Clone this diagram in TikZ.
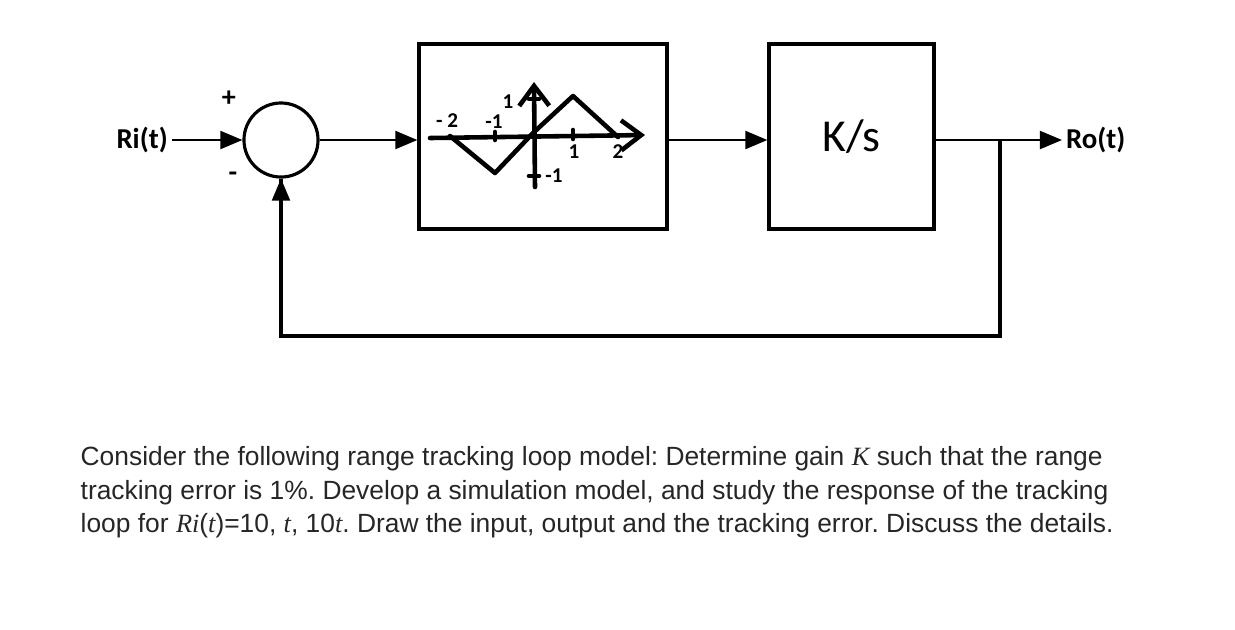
\documentclass[tikz,border=0pt]{standalone}
\usepackage{fontspec}
\setmainfont{Liberation Sans}
\newfontfamily\calibri{Carlito}
\newfontfamily\tnr{Liberation Serif}
\usetikzlibrary{arrows.meta,positioning}

\begin{document}
\frenchspacing
\begin{tikzpicture}[x=0.01cm, y=-0.01cm,
  block/.style={draw, line width=0.9pt, minimum width=2.48cm, minimum height=1.85cm, inner sep=0pt},
  sum/.style={draw, line width=0.9pt, circle, minimum size=0.74cm, inner sep=0pt},
  arrow/.style={-{Triangle[length=2.2mm, width=1.8mm]}, line width=0.6pt},
  line/.style={line width=1pt},
  hand/.style={line width=1.3pt, line cap=round, line join=round},
  lbl/.style={font=\calibri\bfseries\fontsize{8.2}{9}\selectfont, inner sep=1pt}
]
\useasboundingbox (0,0) rectangle (1235,629);

% blocks
\node[sum] (sum) at (281,140) {};
\node[block] (plant) at (543,136.5) {};
\node[block, minimum width=1.65cm] (integ) at (851.5,136.5) {\calibri\fontsize{13}{14}\selectfont K/s};
\node[lbl, anchor=east] (in) at (172,140) {Ri(t)};
\node[lbl, anchor=west] (out) at (1062,140) {Ro(t)};
\coordinate (split) at (1000,140);
\node[font=\calibri\bfseries\fontsize{8}{9}\selectfont] (plus) at (229,99) {+};
\node[font=\calibri\bfseries\fontsize{8}{9}\selectfont] (minus) at (233,177) {-};

% signal path
\draw[arrow] (in.east) -- (sum.west);
\draw[arrow] (sum.east) -- (plant.west |- sum.east);
\draw[arrow] (plant.east |- sum.east) -- (integ.west |- sum.east);
\draw[arrow] (integ.east |- sum.east) -- (out.west);
\draw[line] (split) -- ++(0,196) -| (sum.south);
\draw[arrow] (281,200) -- (sum.south);

% sketch of the nonlinearity
\begin{scope}[hand]
\draw[-{Straight Barb[length=2mm, width=3mm]}] (430,138) -- (645,135);
\draw[-{Straight Barb[length=2mm, width=3mm]}] (535,187) -- (534,82);
\draw (450,136) -- (495,173) -- (533,133) -- (573,96) -- (618,137);
\draw (495,132) -- (495,140);
\draw (573,130) -- (573,139);
\draw (529,99) -- (539,99);
\draw (529,176) -- (539,176);
\end{scope}
\begin{scope}[font=\calibri\bfseries\fontsize{6}{7}\selectfont]
\node (mtwo) at (447,121) {- 2};
\node (mone) at (494,122) {-1};
\node (pone) at (508,102) {1};
\node (yneg) at (554,176) {-1};
\node (xone) at (574,152) {1};
\node (xtwo) at (618,152) {2};
\end{scope}

% problem statement
\node[anchor=north west, align=left, inner sep=0pt, text=black!85,
  font=\fontsize{7.5}{9.45}\selectfont] (task) at (80,446)
  {Consider the following range tracking loop model: Determine gain {\tnr\itshape K} such that the range\\
   tracking error is 1\%. Develop a simulation model, and study the response of the tracking\\
   loop for {\tnr\itshape Ri}({\tnr\itshape t})=10, {\tnr\itshape t}, 10{\tnr\itshape t}. Draw the input, output and the tracking error. Discuss the details.};
\end{tikzpicture}
\end{document}
